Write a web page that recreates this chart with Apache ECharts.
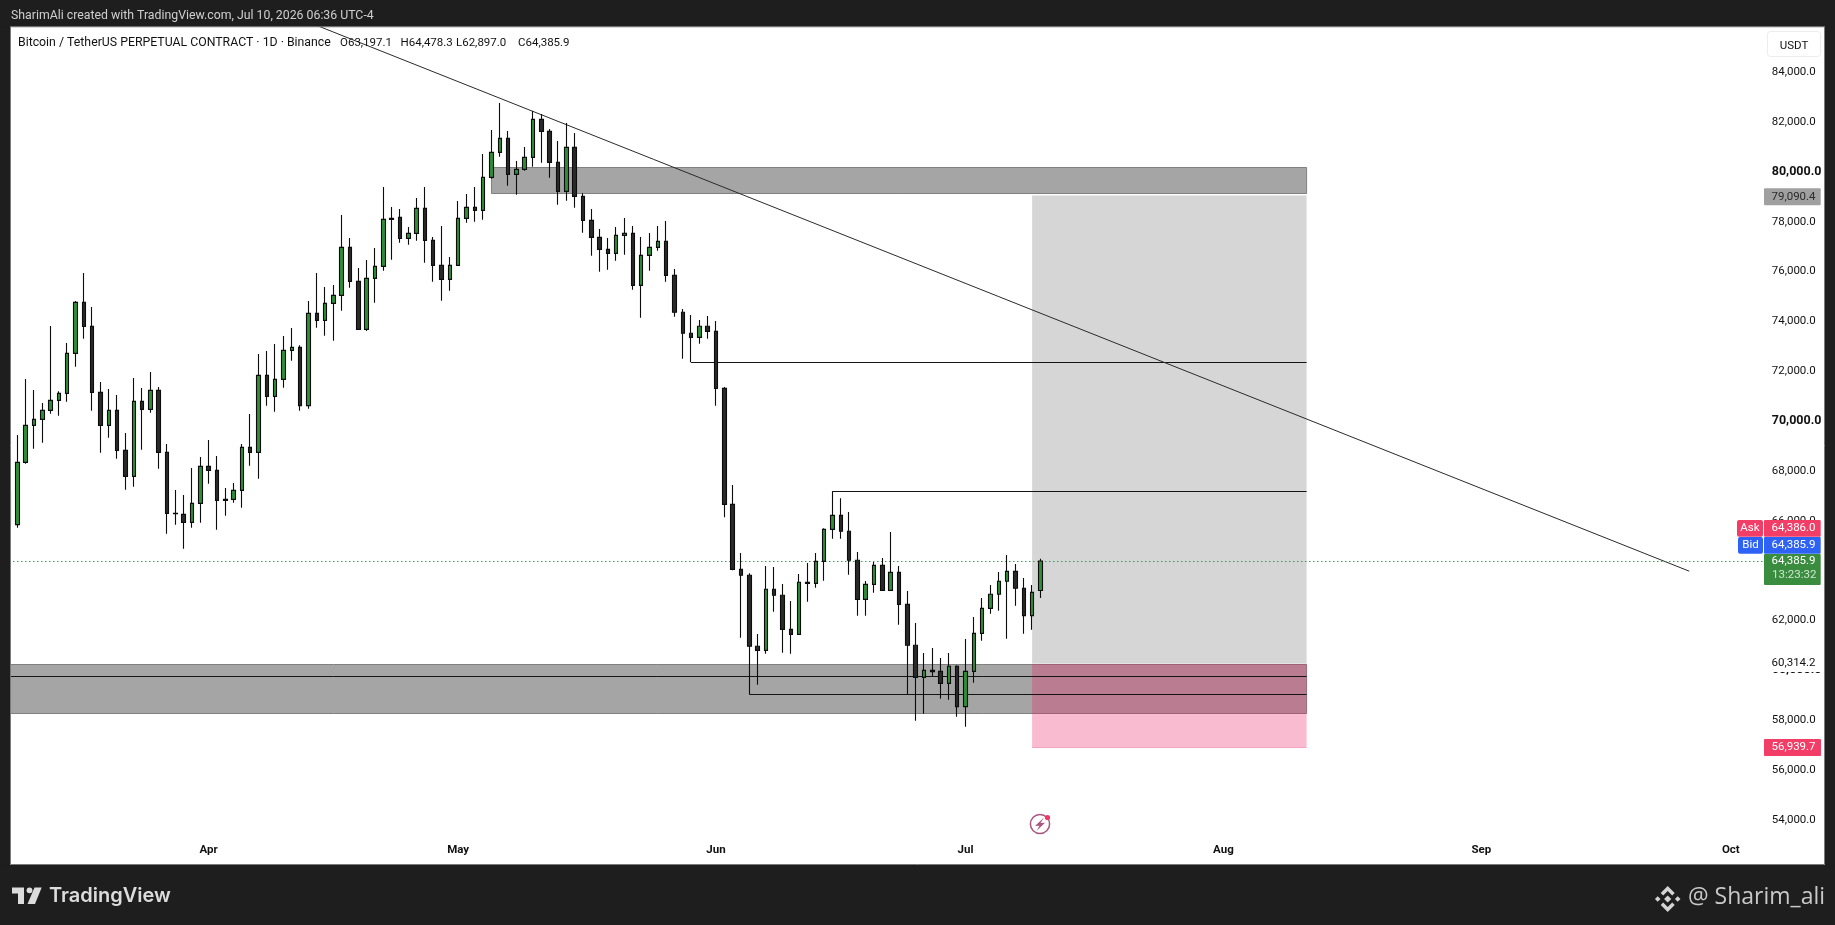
<!DOCTYPE html>
<html><head><meta charset="utf-8">
<script src="https://cdn.jsdelivr.net/npm/echarts@6/dist/echarts.min.js"></script>
<style>html,body{margin:0;padding:0;background:#1e1e1e}#c{width:1835px;height:925px}</style>
</head><body><div id="c"></div>
<script>
// --- Data ---
const firstDate = '2026-03-08';
const categoryCount = 212;
const monthDates  = ['2026-04-01','2026-05-01','2026-06-01','2026-07-01','2026-08-01','2026-09-01','2026-10-01'];
const monthLabels = ['Apr','May','Jun','Jul','Aug','Sep','Oct'];
const opens = [
67193,65842,68344,69829,70070,70431,70833,71114,72719,74767,
73803,71154,69829,70431,68826,67782,70793,70472,71234,68746,
66297,66257,65936,66698,68184,68023,66859,66859,67220,68946,
68746,71836,70993,71676,72840,72960,70619,74325,74044,74726,
75048,76974,75610,73683,75730,76212,78139,78179,77336,77537,
78540,77256,76252,75690,76252,78139,78580,78460,79784,80788,
81350,79905,80106,80587,82113,81631,80387,79222,80989,79022,
78058,77376,76894,76734,77456,77537,75449,76654,76975,77215,
75851,74366,73523,73362,73804,73603,71315,66658,64049,63809,
60959,60798,63247,63006,61641,61440,63528,63487,64370,65655,
66217,65575,64411,62845,63447,64210,63206,63929,62644,60999,
59714,59995,59955,59473,60156,58537,59955,61480,62484,63046,
63568,63969,63287,62190,63197.1];
const closes = [
65829,68344,69829,70070,70431,70833,71114,72719,74767,73803,
71154,69829,70431,68826,67782,70793,70472,71234,68746,66297,
66284,65936,66698,68184,68023,66819,66819,67220,68946,68746,
71836,70993,71676,72840,72960,70619,74325,74044,74726,75048,
76974,75609,73683,75730,76212,78099,78099,77336,77537,78540,
77256,76252,75690,76252,78139,78580,78460,79784,80788,81350,
79905,80106,80587,82113,81631,80387,79222,80989,79022,78058,
77376,76894,76734,77456,77537,75449,76654,76975,77215,75851,
74366,73523,73362,73804,73603,71315,66658,64049,63809,60959,
60798,63247,63006,61641,61440,63528,63487,64370,65655,66217,
65575,64411,62845,63447,64210,63206,63929,62644,60999,59714,
59995,59942,59473,60156,58537,59955,61480,62484,63046,63568,
63969,63287,62190,63126,64385.9];
const lows = [
65762,65722,68291,68893,69134,70298,70217,70779,72184,73308,
70418,68732,69334,68491,67247,67367,68853,70338,68090,65481,
65842,64879,65722,65922,67488,65641,66203,66725,66524,68210,
67689,70619,70378,71341,72425,70418,70498,73750,73429,73228,
74432,75355,73656,73616,74754,76038,76480,77162,77082,77242,
76359,75596,74834,75235,76225,77965,78005,78085,79731,80614,
79450,79089,80052,80213,80373,79771,78687,78848,78567,77563,
76640,75998,76078,76439,76680,75275,74151,76038,76841,75596,
74192,72506,72359,73108,73309,70619,66137,64009,61306,59032,
59420,60664,62350,60704,60664,61414,62751,63313,63594,65280,
65280,63835,62190,62190,63113,63190,63193,61828,59032,57975,
58256,59754,58858,58818,58135,57734,59500,61186,62270,62390,
61266,62591,61467,61628,62897];
const highs = [
67635,69441,71689,71248,70726,73817,71194,73134,74820,75944,
74579,71569,71288,71047,69522,71729,71328,71970,71368,69080,
67234,67033,68117,68558,69241,68598,67314,67515,69080,70284,
72693,72813,73094,73415,73736,73041,74820,75944,75382,75462,
78272,77349,76145,76466,76948,79396,78594,78513,77791,78955,
79396,77389,77831,76587,78834,79115,79396,80721,81684,82768,
81644,80440,81002,82447,82327,81725,81243,81965,81564,79142,
78513,77711,77349,77791,78152,77831,77389,77550,77831,78032,
76105,74499,74258,74058,74218,74018,71368,67434,64705,63889,
61454,64183,64143,63461,62778,63862,64304,64705,65695,67180,
66899,66351,64745,63581,64344,64504,65548,64183,63180,61895,
60691,60892,60490,60691,60196,61253,62136,62899,63420,63942,
64625,64263,63701,63420,64478.3];
// drawings
const zoneStart  = [58, 0];
const zoneEnd    = [156, 156];
const zoneHigh   = [80187, 60237];
const zoneLow    = [79120, 58270];
const posStart = 123, posEnd = 156;
const targetPrice = 79090.4, entryPrice = 60314.2, stopPrice = 56939.7;
const rayStart = [82, 99, 0, 89];
const rayPrice = [72360, 67181, 59756, 59033];
const trendIndex = [36, 202];
const trendPrice = [86015, 63975];
const lastPrice = 64385.9, askPrice = 64386.0, bidPrice = 64385.9, countdown = '13:23:32';

const dates = [];
{ const d = new Date(firstDate + 'T00:00:00Z');
  for (let i = 0; i < categoryCount; i++) { dates.push(d.toISOString().slice(0,10)); d.setUTCDate(d.getUTCDate()+1); } }
const monthAt = {}; monthDates.forEach((m,i)=>monthAt[m]=monthLabels[i]);
const candles = opens.map((o,i)=>[o,closes[i],lows[i],highs[i]]);

const FONT = 'Roboto';
const DARK = '#1e1e1e';
const chart = echarts.init(document.getElementById('c'));

function drawShape(params, api){
  const i = params.dataIndex, kids = [];
  const snap = v => Math.round(v - 0.5) + 0.5;
  const rect = (x0,x1,hi,lo,style,dy)=>{
    const a = api.coord([x0,hi]), b = api.coord([x1,lo]);
    const top = snap(a[1]+(dy||0)), bot = snap(b[1]+(dy||0));
    kids.push({type:'rect',shape:{x:a[0],y:top,width:b[0]-a[0],height:bot-top},style});
  };
  const hline = (x0,x1,p,style,dy)=>{
    const a = api.coord([x0,p]), b = api.coord([x1,p]), y = snap(a[1]+(dy||0));
    kids.push({type:'line',shape:{x1:a[0],y1:y,x2:b[0],y2:y},style});
  };
  const line = (x0,p0,x1,p1,style)=>{
    const a = api.coord([x0,p0]), b = api.coord([x1,p1]);
    kids.push({type:'line',shape:{x1:a[0],y1:a[1],x2:b[0],y2:b[1]},style});
  };
  if (i !== 0) return null;
  zoneStart.forEach((s,k)=>rect(s,zoneEnd[k],zoneHigh[k],zoneLow[k],{fill:'#a5a5a5',stroke:'#808080',lineWidth:1}));
  rect(posStart,posEnd,targetPrice,entryPrice,{fill:'#d6d6d6'},1);
  rect(posStart,posEnd,entryPrice,stopPrice,{fill:'rgba(233,30,99,0.3)'},1);
  hline(posStart,posEnd,targetPrice,{stroke:'#e8e8e8',lineWidth:1},1);
  hline(posStart,posEnd,entryPrice,{stroke:'#e4e4e4',lineWidth:1},1);
  hline(posStart,posEnd,stopPrice,{stroke:'#f4a3c0',lineWidth:1},1);
  rayStart.forEach((s,k)=>hline(s,posEnd,rayPrice[k],{stroke:'#141414',lineWidth:1}));
  line(trendIndex[0],trendPrice[0],trendIndex[1],trendPrice[1],{stroke:'#2a2a2a',lineWidth:1});
  hline(0,categoryCount-1,lastPrice,{stroke:'#2aa44c',lineWidth:1,lineDash:[1.5,2.5]},1);
  return {type:'group',children:kids};
}

chart.setOption({
  animation:false,
  backgroundColor:'#ffffff',
  grid:{left:4.84,top:22.5,width:1763.4,height:847,containLabel:false},
  xAxis:{type:'category',data:dates,boundaryGap:true,
    axisLine:{show:false},axisTick:{show:false},splitLine:{show:false},
    axisLabel:{inside:true,margin:13,color:'#111',fontFamily:FONT,fontSize:11.5,fontWeight:'bold',
      interval:(i,v)=>monthAt[v]!==undefined, formatter:v=>monthAt[v]||''}},
  yAxis:{type:'value',position:'right',min:52000,max:86000,interval:2000,scale:false,
    axisLine:{show:false},axisTick:{show:false},splitLine:{show:false},
    axisLabel:{margin:3.5,color:'#111',fontFamily:FONT,fontSize:11.5,showMinLabel:false,showMaxLabel:false,
      formatter:v=>{ if(v===52000||v===86000) return '';
        const s=v.toLocaleString('en-US',{minimumFractionDigits:1,maximumFractionDigits:1});
        return v%10000===0?'{b|'+s+'}':s;},
      rich:{b:{fontFamily:FONT,fontSize:12.5,fontWeight:'bold',color:'#111'}}}},
  series:[
    {type:'custom',name:'drawings',z:1,silent:true,coordinateSystem:'cartesian2d',
      data:[[0,lastPrice]],renderItem:drawShape},
    {type:'candlestick',name:'BTCUSDT.P',z:3,barWidth:4,data:candles,
      itemStyle:{color:'#2f8f38',color0:'#2a2a2a',borderColor:'#0c0c0c',borderColor0:'#0c0c0c',borderColorDoji:'#0c0c0c',borderWidth:1.1}}
  ]
});

const yAt = p => chart.convertToPixel({yAxisIndex:0},p);
const txt = (x,y,text,o)=>({type:'text',z:o&&o.z||60,x,y,silent:true,style:Object.assign({text,fontFamily:FONT,fontSize:11.5,fill:'#111',textVerticalAlign:'middle',textBaseline:'middle'},o||{})});
const box = (x,y,w,h,fill,z,r)=>({type:'rect',z:z||55,silent:true,shape:{x,y,width:w,height:h,r:r||0},style:{fill}});
const poly = (pts,fill)=>({type:'polygon',z:60,silent:true,shape:{points:pts},style:{fill}});

const g = [];
// dark frame
g.push(box(0,0,10,925,DARK,50),box(0,0,1835,26.8,DARK,50),box(1825,0,10,925,DARK,50),box(0,864.8,1835,61,DARK,50));
g.push({type:'rect',z:51,silent:true,shape:{x:10.5,y:26.8,width:1814,height:837.7},style:{fill:null,stroke:'#7a7a7a',lineWidth:1}});
// header
g.push(txt(11,15.5,'SharimAli created with TradingView.com, Jul 10, 2026 06:36 UTC-4',{fill:'#cfcfcf',fontSize:12.3}));
g.push(txt(18,43,'Bitcoin / TetherUS PERPETUAL CONTRACT · 1D · Binance',{fontSize:12.3,z:20}));
g.push(txt(340,43,'O63,197.1',{fontSize:11.5,z:20}),txt(400.5,43,'H64,478.3',{fontSize:11.5,z:20}),txt(456,43,'L62,897.0',{fontSize:11.5,z:20}),txt(518,43,'C64,385.9',{fontSize:11.5,z:20}));
// currency button
g.push({type:'rect',z:20,silent:true,shape:{x:1767.5,y:31.5,width:53,height:25,r:3},style:{fill:'#fff',stroke:'#ececec',lineWidth:1}});
g.push(txt(1794,46,'USDT',{textAlign:'center',align:'center',z:21}));
// price tags
const yT=yAt(targetPrice), yE=yAt(entryPrice), yS=yAt(stopPrice), yL=yAt(lastPrice);
g.push(box(1764,yT-6.5,56.7,17,'#a0a0a0',20,1),txt(1771.5,yT+2,targetPrice.toLocaleString('en-US',{minimumFractionDigits:1}),{fill:'#2b2b2b',z:21}));
g.push(box(1764,yE-8.5,57,18,'#ffffff',20),txt(1771.5,yE+1,entryPrice.toLocaleString('en-US',{minimumFractionDigits:1}),{z:21}));
g.push(box(1764,yS-7.5,57,17,'#f23d67',20,1),txt(1771.5,yS+1,stopPrice.toLocaleString('en-US',{minimumFractionDigits:1}),{fill:'#fff',z:21}));
g.push(box(1737,520,26,16.7,'#f23d67',20,2),box(1764,520,56.7,16.7,'#f23d67',20,1));
g.push(txt(1750,528.5,'Ask',{fill:'#fff',textAlign:'center',align:'center',z:21}),txt(1771.5,528.5,askPrice.toLocaleString('en-US',{minimumFractionDigits:1}),{fill:'#fff',z:21}));
g.push(box(1738,537,25,16.7,'#2d62f5',20,2),box(1764,537,56.7,16.7,'#2d62f5',20,1));
g.push(txt(1750.5,545.5,'Bid',{fill:'#fff',textAlign:'center',align:'center',z:21}),txt(1771.5,545.5,bidPrice.toLocaleString('en-US',{minimumFractionDigits:1}),{fill:'#fff',z:21}));
g.push(box(1764,554,56.7,31,'#3a8c3f',20,1));
g.push(txt(1771.5,561.5,lastPrice.toLocaleString('en-US',{minimumFractionDigits:1}),{fill:'#fff',z:21}),txt(1772,575.5,countdown,{fill:'#cfe5d0',z:21}));
// lightning icon
g.push({type:'circle',z:20,silent:true,shape:{cx:1040,cy:824,r:9.6},style:{fill:'#fff',stroke:'#a8587f',lineWidth:1.5}});
g.push(Object.assign(poly([[1044,817.5],[1035,826],[1039.5,825.7],[1036.5,831],[1045,822.7],[1040.5,823]],'#a8587f'),{z:21}));
g.push({type:'circle',z:21,silent:true,shape:{cx:1047.5,cy:817.5,r:2.6},style:{fill:'#f23668'}});
// TradingView logo
const tv='#dcdcdc';
g.push(poly([[12,887.5],[24,887.5],[24,904],[18,904],[18,893.5],[12,893.5]],tv));
g.push({type:'circle',z:60,silent:true,shape:{cx:29.5,cy:890.3,r:2.9},style:{fill:tv}});
g.push(poly([[34.5,887.5],[41.7,887.5],[35,904],[27.5,904]],tv));
g.push(txt(49,895.5,'TradingView',{fill:tv,fontFamily:'Inter',fontWeight:600,fontSize:20}));
// Binance mark and handle
const bn='#d4d4d4', cx=1667.7, cy=899;
const dia=(x,y,r)=>poly([[x,y-r],[x+r,y],[x,y+r],[x-r,y]],bn);
g.push(dia(cx,cy,3.6),dia(cx-10,cy,2.8),dia(cx+10,cy,2.8));
g.push(poly([[cx,cy-13],[cx+7,cy-6],[cx+4.5,cy-3.5],[cx,cy-8],[cx-4.5,cy-3.5],[cx-7,cy-6]],bn));
g.push(poly([[cx,cy+13],[cx+7,cy+6],[cx+4.5,cy+3.5],[cx,cy+8],[cx-4.5,cy+3.5],[cx-7,cy+6]],bn));
g.push(txt(1688,897.5,'@ Sharim_ali',{fill:'#c9c9c9',fontFamily:'Open Sans',fontSize:23}));
chart.setOption({graphic:{elements:g}});
</script></body></html>
